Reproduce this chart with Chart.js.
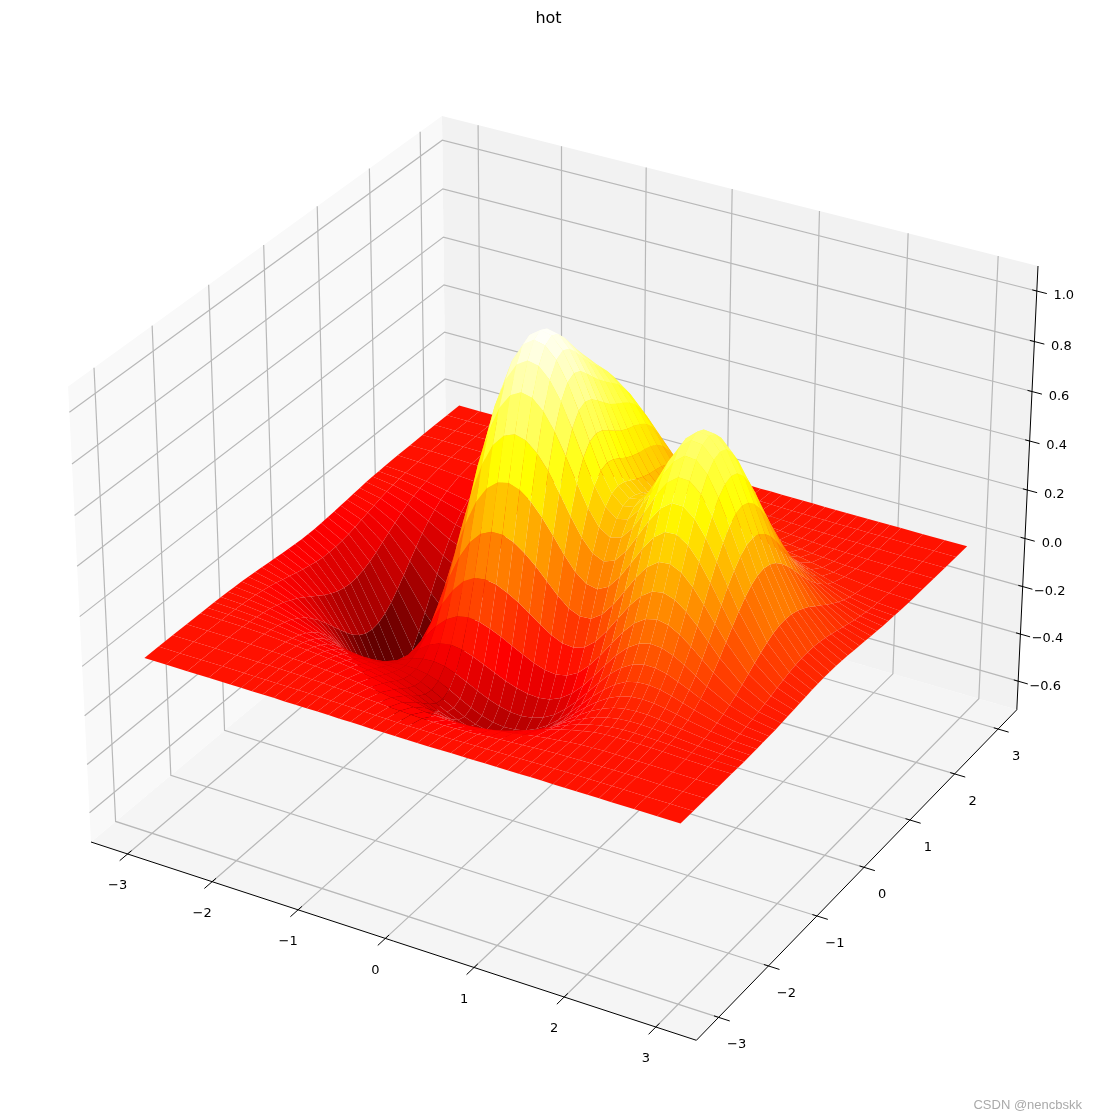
<!DOCTYPE html>
<html>
<head>
<meta charset="utf-8">
<title>hot</title>
<script src="https://cdn.jsdelivr.net/npm/chart.js@4"></script>
<style>
  body { margin: 0; background: #fff; }
  canvas { display: block; }
</style>
</head>
<body>
<canvas id="surfaceChart" width="1097" height="1120"></canvas>
<script>
// finer steps where the surface moves, coarser out on the flat part
const xValues = [-3, -2.75, -2.5, -2.25, -2, -1.875, -1.75, -1.625, -1.5, -1.375, -1.25, -1.125, -1, -.875, -.75, -.625, -.5, -.375, -.25, -.125, 0, .125, .25, .375, .5, .625, .75, .875, 1, 1.125, 1.25, 1.375, 1.5, 1.625, 1.75, 1.875, 2, 2.125, 2.25, 2.5, 2.75, 3]
const yValues = [-3, -2.75, -2.5, -2.25, -2, -1.875, -1.75, -1.625, -1.5, -1.375, -1.25, -1.125, -1, -.875, -.75, -.625, -.5, -.375, -.25, -.125, 0, .125, .25, .375, .5, .625, .75, .875, 1, 1.125, 1.25, 1.375, 1.5, 1.75, 2, 2.25, 2.5, 2.75, 3]
// one row per y value, one column per x value
const zRows = [
  [0,0,0,0,0,0,0,0,0,-.001,-.001,-.001,-.001,-.001,-.002,-.002,-.002,-.003,-.003,-.003,-.003,-.003,-.003,-.003,-.002,-.002,-.002,-.001,-.001,-.001,-.001,0,0,0,0,0,0,0,0,0,0,0],
  [0,0,0,0,0,-.001,-.001,-.001,-.001,-.002,-.002,-.003,-.004,-.005,-.006,-.007,-.008,-.009,-.01,-.01,-.01,-.01,-.01,-.009,-.008,-.007,-.006,-.005,-.004,-.003,-.002,-.001,-.001,0,0,0,0,0,0,0,0,0],
  [0,0,0,-.001,-.002,-.002,-.003,-.003,-.004,-.006,-.007,-.009,-.011,-.013,-.016,-.019,-.022,-.024,-.026,-.028,-.028,-.028,-.027,-.025,-.022,-.019,-.016,-.013,-.01,-.007,-.005,-.003,-.002,-.001,0,0,.001,.001,.001,0,0,0],
  [0,-.001,-.001,-.003,-.005,-.006,-.008,-.009,-.011,-.014,-.017,-.021,-.025,-.031,-.037,-.044,-.05,-.056,-.061,-.064,-.066,-.065,-.063,-.058,-.052,-.045,-.038,-.03,-.023,-.016,-.011,-.006,-.002,0,.002,.002,.002,.002,.002,.001,0,0],
  [-.001,-.002,-.004,-.007,-.013,-.016,-.019,-.023,-.027,-.031,-.036,-.043,-.05,-.06,-.072,-.084,-.097,-.108,-.118,-.125,-.128,-.127,-.122,-.114,-.103,-.089,-.074,-.059,-.044,-.03,-.018,-.008,0,.005,.007,.008,.008,.007,.006,.003,.001,.001],
  [-.001,-.002,-.006,-.012,-.02,-.025,-.029,-.034,-.039,-.044,-.05,-.057,-.067,-.078,-.092,-.108,-.124,-.14,-.153,-.162,-.166,-.165,-.159,-.149,-.134,-.117,-.097,-.076,-.056,-.036,-.02,-.006,.004,.01,.014,.015,.014,.012,.01,.005,.002,.001],
  [-.001,-.004,-.009,-.018,-.03,-.037,-.044,-.05,-.055,-.061,-.067,-.074,-.084,-.097,-.113,-.131,-.151,-.17,-.186,-.198,-.204,-.204,-.197,-.185,-.167,-.145,-.12,-.093,-.066,-.041,-.019,-.001,.012,.021,.024,.025,.023,.019,.015,.008,.004,.001],
  [-.002,-.006,-.014,-.027,-.045,-.054,-.063,-.07,-.076,-.081,-.085,-.091,-.099,-.112,-.128,-.148,-.171,-.193,-.212,-.227,-.235,-.235,-.229,-.215,-.195,-.169,-.139,-.107,-.073,-.041,-.013,.01,.027,.037,.041,.04,.036,.03,.024,.013,.006,.002],
  [-.003,-.009,-.02,-.039,-.064,-.077,-.088,-.097,-.102,-.105,-.106,-.108,-.111,-.12,-.134,-.154,-.177,-.201,-.223,-.24,-.25,-.253,-.247,-.234,-.213,-.185,-.151,-.113,-.073,-.034,.001,.029,.05,.061,.065,.062,.055,.046,.036,.019,.008,.003],
  [-.005,-.012,-.029,-.056,-.09,-.107,-.121,-.13,-.134,-.133,-.127,-.121,-.117,-.118,-.126,-.141,-.162,-.186,-.209,-.229,-.242,-.247,-.244,-.234,-.214,-.186,-.149,-.107,-.061,-.015,.026,.06,.084,.096,.098,.093,.081,.067,.053,.028,.012,.005],
  [-.006,-.017,-.039,-.076,-.123,-.144,-.162,-.171,-.172,-.164,-.148,-.13,-.112,-.1,-.097,-.104,-.12,-.141,-.163,-.184,-.2,-.21,-.212,-.206,-.191,-.166,-.13,-.086,-.035,.017,.065,.104,.13,.143,.143,.133,.115,.095,.074,.039,.017,.006],
  [-.008,-.023,-.053,-.102,-.162,-.19,-.211,-.22,-.216,-.198,-.168,-.133,-.096,-.065,-.046,-.039,-.045,-.06,-.08,-.1,-.12,-.135,-.145,-.148,-.141,-.122,-.09,-.046,.008,.065,.118,.162,.191,.203,.199,.183,.158,.129,.1,.052,.023,.008],
  [-.011,-.03,-.068,-.132,-.209,-.243,-.267,-.276,-.265,-.235,-.187,-.129,-.068,-.013,.029,.054,.063,.058,.043,.023,0,-.022,-.043,-.058,-.063,-.054,-.029,.013,.068,.129,.187,.235,.265,.276,.268,.243,.209,.17,.132,.068,.03,.011],
  [-.014,-.038,-.086,-.166,-.261,-.303,-.331,-.338,-.319,-.273,-.204,-.12,-.029,.055,.124,.173,.199,.206,.199,.179,.153,.122,.09,.06,.04,.036,.051,.087,.142,.206,.269,.32,.352,.36,.345,.312,.267,.217,.167,.087,.038,.014],
  [-.017,-.046,-.105,-.202,-.317,-.367,-.399,-.404,-.376,-.314,-.221,-.107,.016,.133,.233,.307,.354,.375,.376,.36,.329,.289,.243,.197,.159,.14,.143,.173,.226,.292,.359,.413,.446,.451,.43,.386,.33,.267,.206,.107,.046,.017],
  [-.02,-.055,-.125,-.239,-.375,-.432,-.468,-.471,-.434,-.355,-.237,-.093,.064,.214,.345,.446,.514,.55,.56,.545,.512,.462,.402,.338,.283,.247,.238,.261,.313,.381,.451,.509,.542,.545,.516,.463,.394,.318,.245,.127,.055,.02],
  [-.023,-.063,-.144,-.274,-.43,-.495,-.534,-.536,-.49,-.394,-.253,-.08,.107,.29,.45,.576,.664,.713,.731,.719,.681,.623,.549,.47,.398,.347,.327,.344,.394,.465,.539,.6,.634,.633,.598,.535,.455,.368,.283,.146,.063,.023],
  [-.026,-.07,-.16,-.306,-.479,-.55,-.593,-.593,-.54,-.43,-.269,-.072,.143,.352,.538,.685,.789,.851,.875,.864,.823,.757,.672,.579,.493,.429,.401,.413,.463,.536,.614,.679,.713,.711,.671,.599,.508,.41,.316,.163,.071,.026],
  [-.028,-.076,-.173,-.33,-.516,-.593,-.64,-.639,-.58,-.459,-.284,-.068,.167,.397,.601,.764,.88,.951,.978,.968,.925,.853,.759,.657,.56,.488,.453,.463,.513,.589,.672,.739,.775,.771,.727,.648,.55,.444,.342,.177,.077,.028],
  [-.03,-.08,-.181,-.347,-.541,-.622,-.67,-.668,-.607,-.48,-.295,-.067,.181,.422,.638,.81,.933,1.008,1.038,1.028,.983,.907,.809,.7,.597,.52,.482,.491,.543,.622,.707,.777,.814,.809,.762,.68,.577,.466,.358,.185,.081,.03],
  [-.03,-.081,-.184,-.352,-.55,-.631,-.68,-.679,-.616,-.487,-.299,-.068,.184,.43,.649,.824,.949,1.025,1.056,1.046,1,.923,.823,.712,.608,.53,.491,.5,.552,.632,.718,.789,.827,.822,.774,.691,.586,.473,.364,.188,.082,.03],
  [-.03,-.08,-.181,-.347,-.541,-.621,-.67,-.668,-.606,-.479,-.294,-.066,.182,.424,.64,.812,.936,1.011,1.042,1.032,.986,.911,.812,.703,.6,.523,.484,.493,.544,.623,.707,.777,.814,.809,.762,.68,.577,.466,.358,.185,.081,.03],
  [-.028,-.076,-.173,-.33,-.516,-.592,-.639,-.637,-.577,-.456,-.278,-.059,.178,.411,.618,.783,.903,.976,1.006,.997,.954,.881,.787,.682,.583,.508,.47,.476,.524,.597,.678,.743,.778,.773,.728,.649,.551,.444,.342,.177,.077,.028],
  [-.026,-.07,-.16,-.306,-.477,-.546,-.589,-.586,-.53,-.416,-.25,-.046,.176,.395,.59,.747,.86,.93,.961,.954,.915,.847,.758,.659,.564,.492,.453,.456,.496,.562,.633,.692,.724,.718,.674,.602,.51,.412,.316,.163,.071,.026],
  [-.023,-.063,-.143,-.273,-.426,-.488,-.525,-.522,-.469,-.364,-.213,-.026,.179,.38,.561,.708,.815,.883,.914,.91,.876,.815,.732,.639,.55,.479,.438,.435,.466,.519,.58,.629,.654,.647,.607,.541,.458,.369,.284,.147,.064,.023],
  [-.02,-.055,-.124,-.237,-.369,-.422,-.453,-.448,-.399,-.304,-.168,.001,.185,.368,.533,.669,.771,.837,.869,.87,.842,.787,.712,.625,.54,.47,.426,.415,.434,.474,.52,.559,.577,.568,.531,.472,.399,.322,.248,.127,.055,.02],
  [-.017,-.046,-.105,-.199,-.309,-.352,-.376,-.37,-.326,-.241,-.12,.029,.193,.357,.506,.632,.728,.793,.828,.832,.81,.762,.695,.615,.534,.464,.417,.397,.403,.428,.46,.486,.496,.485,.452,.401,.338,.272,.209,.108,.047,.017],
  [-.014,-.038,-.085,-.162,-.25,-.284,-.302,-.293,-.253,-.179,-.074,.056,.2,.345,.479,.594,.684,.747,.784,.793,.777,.736,.675,.602,.525,.457,.406,.378,.371,.382,.399,.414,.418,.405,.374,.331,.278,.223,.171,.088,.038,.014],
  [-.011,-.029,-.067,-.127,-.195,-.221,-.233,-.223,-.188,-.124,-.033,.079,.203,.329,.448,.552,.636,.697,.734,.747,.736,.702,.648,.582,.51,.444,.39,.355,.338,.336,.341,.346,.343,.329,.302,.265,.222,.178,.136,.07,.03,.011],
  [-.008,-.023,-.051,-.097,-.148,-.166,-.173,-.163,-.131,-.077,0,.094,.2,.308,.412,.504,.581,.638,.675,.691,.684,.656,.61,.55,.484,.421,.367,.328,.304,.292,.287,.283,.276,.261,.237,.207,.173,.138,.105,.054,.023,.008],
  [-.006,-.017,-.038,-.071,-.108,-.12,-.123,-.113,-.086,-.04,.023,.101,.189,.28,.369,.45,.518,.571,.606,.622,.619,.597,.557,.505,.446,.388,.336,.295,.266,.248,.236,.227,.216,.201,.181,.157,.13,.104,.079,.04,.017,.006],
  [-.005,-.012,-.027,-.051,-.076,-.084,-.084,-.075,-.052,-.014,.037,.1,.172,.247,.322,.39,.449,.496,.528,.544,.544,.526,.493,.449,.398,.346,.298,.258,.228,.206,.191,.178,.166,.152,.135,.116,.096,.076,.057,.029,.012,.005],
  [-.003,-.008,-.019,-.035,-.051,-.056,-.055,-.046,-.027,.002,.043,.093,.15,.211,.271,.327,.377,.417,.445,.46,.461,.448,.421,.384,.341,.297,.254,.218,.189,.167,.15,.137,.125,.112,.098,.083,.068,.054,.041,.021,.009,.003],
  [-.001,-.004,-.008,-.015,-.021,-.022,-.02,-.014,-.002,.015,.039,.068,.101,.137,.173,.208,.24,.266,.285,.296,.298,.29,.274,.251,.224,.194,.166,.14,.118,.1,.086,.075,.065,.056,.048,.04,.032,.025,.019,.009,.004,.001],
  [-.001,-.001,-.003,-.006,-.007,-.007,-.006,-.002,.004,.013,.025,.04,.057,.076,.095,.114,.131,.146,.157,.163,.165,.161,.153,.14,.125,.109,.092,.077,.064,.053,.044,.037,.031,.025,.021,.017,.013,.01,.008,.004,.002,.001],
  [0,0,-.001,-.002,-.002,-.002,-.001,.001,.004,.008,.013,.02,.028,.036,.045,.054,.062,.069,.074,.078,.078,.077,.073,.067,.06,.052,.044,.037,.03,.024,.02,.016,.013,.01,.008,.007,.005,.004,.003,.001,.001,0],
  [0,0,0,0,-.001,0,0,.001,.002,.004,.006,.008,.011,.015,.018,.022,.025,.028,.03,.032,.032,.031,.03,.028,.025,.021,.018,.015,.012,.01,.008,.006,.005,.004,.003,.002,.002,.001,.001,0,0,0],
  [0,0,0,0,0,0,0,.001,.001,.001,.002,.003,.004,.005,.007,.008,.009,.01,.01,.011,.011,.011,.011,.01,.009,.008,.006,.005,.004,.003,.003,.002,.002,.001,.001,.001,0,0,0,0,0,0],
  [0,0,0,0,0,0,0,0,0,0,.001,.001,.001,.001,.002,.002,.003,.003,.003,.003,.003,.003,.003,.003,.003,.002,.002,.001,.001,.001,.001,0,0,0,0,0,0,0,0,0,0,0],
]
const xTicks = [-3, -2, -1, 0, 1, 2, 3]
const yTicks = [-3, -2, -1, 0, 1, 2, 3]
const zTicks = [-0.6, -0.4, -0.2, 0, 0.2, 0.4, 0.6, 0.8, 1]

const W = 1097
const H = 1120
const TITLE_H = 28.2

// axis limits of the 3d box, the box itself is padded by 1/48 each side
const LIM_XY = 3.3
const LIM_Z = [-0.686, 1.062]
const padXY = (2 * LIM_XY) / 48
const padZ = (LIM_Z[1] - LIM_Z[0]) / 48
const lo = [-LIM_XY - padXY, -LIM_XY - padXY, LIM_Z[0] - padZ]
const hi = [LIM_XY + padXY, LIM_XY + padXY, LIM_Z[1] + padZ]

// same camera as mplot3d: elev 30, azim -60
const elev = (30 * Math.PI) / 180
const azim = (-60 * Math.PI) / 180
const dist = 10
const box = [1.1905, 1.1905, 0.8929]
const viewDir = [Math.cos(elev) * Math.cos(azim), Math.cos(elev) * Math.sin(azim), Math.sin(elev)]
const eye = box.map((b, i) => b / 2 + dist * viewDir[i])

const dot = (a, b) => a[0] * b[0] + a[1] * b[1] + a[2] * b[2]
const cross = (a, b) => [a[1] * b[2] - a[2] * b[1], a[2] * b[0] - a[0] * b[2], a[0] * b[1] - a[1] * b[0]]
const uLen = Math.hypot(...cross([0, 0, 1], viewDir))
const uDir = cross([0, 0, 1], viewDir).map((c) => c / uLen)
const vDir = cross(viewDir, uDir)

function project(x, y, z) {
  const p = [
    ((x + LIM_XY) / (2 * LIM_XY)) * box[0],
    ((y + LIM_XY) / (2 * LIM_XY)) * box[1],
    ((z - LIM_Z[0]) / (LIM_Z[1] - LIM_Z[0])) * box[2],
  ]
  const d = [p[0] - eye[0], p[1] - eye[1], p[2] - eye[2]]
  const depth = -dot(viewDir, d)
  return { x: dot(uDir, d) / depth, y: dot(vDir, d) / depth, depth }
}

// scale limits so two box corners land where they sit in the picture
const cornerA = project(lo[0], lo[1], lo[2])
const cornerB = project(hi[0], hi[1], hi[2])
const kx = (1038 - 91) / (cornerB.x - cornerA.x)
const ky = (266 - 842) / (cornerB.y - cornerA.y)
const scaleX = { min: cornerA.x - 91 / kx, max: cornerA.x + (W - 91) / kx }
const scaleY = { min: cornerA.y + (H - 842) / ky, max: cornerA.y + (TITLE_H - 842) / ky }

function hot(t) {
  const r = Math.min(1, 0.0416 + (t / 0.365079) * 0.9584)
  const g = Math.min(1, Math.max(0, (t - 0.365079) / 0.380953))
  const b = Math.min(1, Math.max(0, (t - 0.746032) / 0.253968))
  return `rgb(${Math.round(r * 255)},${Math.round(g * 255)},${Math.round(b * 255)})`
}

const zMin = Math.min(...zRows.flat())
const zMax = Math.max(...zRows.flat())

function cellColor(z) {
  return hot((z - zMin) / (zMax - zMin))
}

function polygon(corners, color, order) {
  const pts = corners.map((c) => project(c[0], c[1], c[2]))
  return {
    data: [...pts, pts[0]],
    showLine: true,
    fill: 'shape',
    backgroundColor: color,
    borderWidth: 0,
    pointRadius: 0,
    tension: 0,
    order,
  }
}

function line(corners, color, width, order) {
  return {
    data: corners.map((c) => project(c[0], c[1], c[2])),
    showLine: true,
    fill: false,
    borderColor: color,
    borderWidth: width,
    pointRadius: 0,
    tension: 0,
    order,
  }
}

const datasets = []

// panes
datasets.push(polygon([[lo[0], lo[1], lo[2]], [lo[0], hi[1], lo[2]], [lo[0], hi[1], hi[2]], [lo[0], lo[1], hi[2]]], '#f9f9f9', 1000))
datasets.push(polygon([[lo[0], hi[1], lo[2]], [hi[0], hi[1], lo[2]], [hi[0], hi[1], hi[2]], [lo[0], hi[1], hi[2]]], '#f2f2f2', 1000))
datasets.push(polygon([[lo[0], lo[1], lo[2]], [hi[0], lo[1], lo[2]], [hi[0], hi[1], lo[2]], [lo[0], hi[1], lo[2]]], '#f5f5f5', 1000))

// grid
const GRID = '#b8b8b8'
xTicks.forEach((t) => {
  datasets.push(line([[t, lo[1], lo[2]], [t, hi[1], lo[2]], [t, hi[1], hi[2]]], GRID, 1.2, 900))
})
yTicks.forEach((t) => {
  datasets.push(line([[hi[0], t, lo[2]], [lo[0], t, lo[2]], [lo[0], t, hi[2]]], GRID, 1.2, 900))
})
zTicks.forEach((t) => {
  datasets.push(line([[lo[0], lo[1], t], [lo[0], hi[1], t], [hi[0], hi[1], t]], GRID, 1.2, 900))
})

// axis lines and tick marks
datasets.push(line([[lo[0], lo[1], lo[2]], [hi[0], lo[1], lo[2]]], '#000', 1, 800))
datasets.push(line([[hi[0], lo[1], lo[2]], [hi[0], hi[1], lo[2]]], '#000', 1, 800))
datasets.push(line([[hi[0], hi[1], lo[2]], [hi[0], hi[1], hi[2]]], '#000', 1, 800))
xTicks.forEach((t) => {
  datasets.push(line([[t, lo[1] + 0.07, lo[2]], [t, lo[1] - 0.14, lo[2]]], '#000', 1, 800))
})
yTicks.forEach((t) => {
  datasets.push(line([[hi[0] - 0.05, t, lo[2]], [hi[0] + 0.12, t, lo[2]]], '#000', 1, 800))
})
zTicks.forEach((t) => {
  datasets.push(line([[hi[0] - 0.05, hi[1], t], [hi[0] + 0.11, hi[1], t]], '#000', 1, 800))
})

// surface cells, order by distance so far cells paint first
for (let j = 0; j < yValues.length - 1; j++) {
  for (let i = 0; i < xValues.length - 1; i++) {
    const corners = [
      [xValues[i], yValues[j], zRows[j][i]],
      [xValues[i + 1], yValues[j], zRows[j][i + 1]],
      [xValues[i + 1], yValues[j + 1], zRows[j + 1][i + 1]],
      [xValues[i], yValues[j + 1], zRows[j + 1][i]],
    ]
    const meanZ = (corners[0][2] + corners[1][2] + corners[2][2] + corners[3][2]) / 4
    const center = project((xValues[i] + xValues[i + 1]) / 2, (yValues[j] + yValues[j + 1]) / 2, meanZ)
    datasets.push(polygon(corners, cellColor(meanZ), center.depth))
  }
}

function tickText(v) {
  return String(v).replace('-', '\u2212')
}

const axisText = {
  id: 'axisText',
  afterDatasetsDraw(chart) {
    const { ctx, scales } = chart
    const put = (pos, dx, dy, text) => {
      ctx.fillText(text, scales.x.getPixelForValue(pos.x) + dx, scales.y.getPixelForValue(pos.y) + dy)
    }
    ctx.save()
    ctx.fillStyle = '#000'
    ctx.font = '13px "DejaVu Sans"'
    ctx.textAlign = 'center'
    ctx.textBaseline = 'middle'
    xTicks.forEach((t) => put(project(t, lo[1], lo[2]), -10, 32, tickText(t)))
    yTicks.forEach((t) => put(project(hi[0], t, lo[2]), 18, 27.5, tickText(t)))
    zTicks.forEach((t) => put(project(hi[0], hi[1], t), 27, 5, tickText(t.toFixed(1))))
    ctx.fillStyle = '#aaa'
    ctx.font = '13px "Liberation Sans"'
    ctx.textAlign = 'right'
    ctx.fillText('CSDN @nencbskk', 1082, 1105)
    ctx.restore()
  },
}

new Chart(document.getElementById('surfaceChart').getContext('2d'), {
  type: 'scatter',
  data: { datasets },
  options: {
    responsive: false,
    animation: false,
    parsing: false,
    normalized: true,
    layout: { padding: 0 },
    scales: {
      x: { type: 'linear', display: false, min: scaleX.min, max: scaleX.max },
      y: { type: 'linear', display: false, min: scaleY.min, max: scaleY.max },
    },
    plugins: {
      legend: { display: false },
      tooltip: { enabled: false },
      title: {
        display: true,
        text: 'hot',
        color: '#000',
        font: { family: 'DejaVu Sans', size: 16, weight: 'normal' },
        padding: { top: 9, bottom: 0 },
      },
    },
  },
  plugins: [axisText],
})
</script>
</body>
</html>
